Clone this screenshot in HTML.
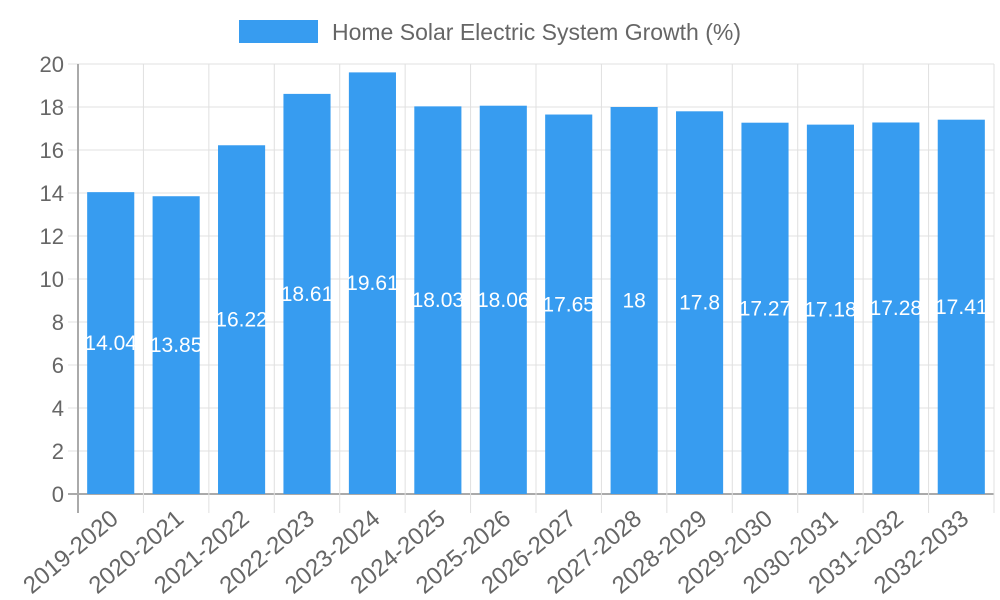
<!DOCTYPE html>
<html><head><meta charset="utf-8"><style>body{margin:0;background:#fff}svg{display:block;font-family:"Liberation Sans",sans-serif}</style></head>
<body>
<svg id="c" width="1000" height="600"></svg>
<script>
const categories=["2019-2020","2020-2021","2021-2022","2022-2023","2023-2024","2024-2025","2025-2026","2026-2027","2027-2028","2028-2029","2029-2030","2030-2031","2031-2032","2032-2033"];
const values=[14.04,13.85,16.22,18.61,19.61,18.03,18.06,17.65,18,17.8,17.27,17.18,17.28,17.41];
const yTicks=[0,2,4,6,8,10,12,14,16,18,20];
const seriesName="Home Solar Electric System Growth (%)";
const NS="http://www.w3.org/2000/svg",svg=document.getElementById('c');
const L=78,R=994,T=64,B=494,yMax=20;
const y=v=>B-(B-T)*v/yMax;
const bw=(R-L)/categories.length;
const x=i=>L+bw*(i+0.5);
function mk(t,a,p){const e=document.createElementNS(NS,t);for(const k in a)e.setAttribute(k,a[k]);(p||svg).appendChild(e);return e;}
const lg=mk('g',{});


mk('rect',{x:239,y:20,width:79,height:23,fill:'#379cf0'},lg);
const lt=mk('text',{x:332,y:40,'font-size':23,fill:'#666'},lg);lt.textContent=seriesName;
yTicks.forEach(v=>{
  const g=mk('line',{x1:L-10,x2:R,y1:y(v),y2:y(v),stroke:v===0?'#aaa':'#e0e0e0','stroke-width':v===0?2:1});
  
  
  const t=mk('text',{x:L-14,y:y(v)+8,'font-size':22,fill:'#666','text-anchor':'end'});t.textContent=v;
  
  
});
for(let i=0;i<=categories.length;i++){
  const xx=L+bw*i;
  mk('line',{x1:xx,x2:xx,y1:T,y2:B+19,stroke:i===0?'#aaa':'#e0e0e0','stroke-width':i===0?2:1});
}
categories.forEach((c,i)=>{
  const w=bw*0.72,v=values[i];
  const r=mk('rect',{x:x(i)-w/2,y:y(v),width:w,height:B-y(v),fill:'#379cf0'});
  
  
  const vt=mk('text',{x:x(i),y:(y(v)+B)/2+7,'font-size':21,fill:'#fff','text-anchor':'middle'});vt.textContent=v;
  
  
  const t=mk('text',{x:0,y:0,'font-size':24,fill:'#666','text-anchor':'end',transform:`translate(${x(i)+9},${B+27}) rotate(-40)`});
  t.textContent=c;
  
  
});
</script>
</body></html>
